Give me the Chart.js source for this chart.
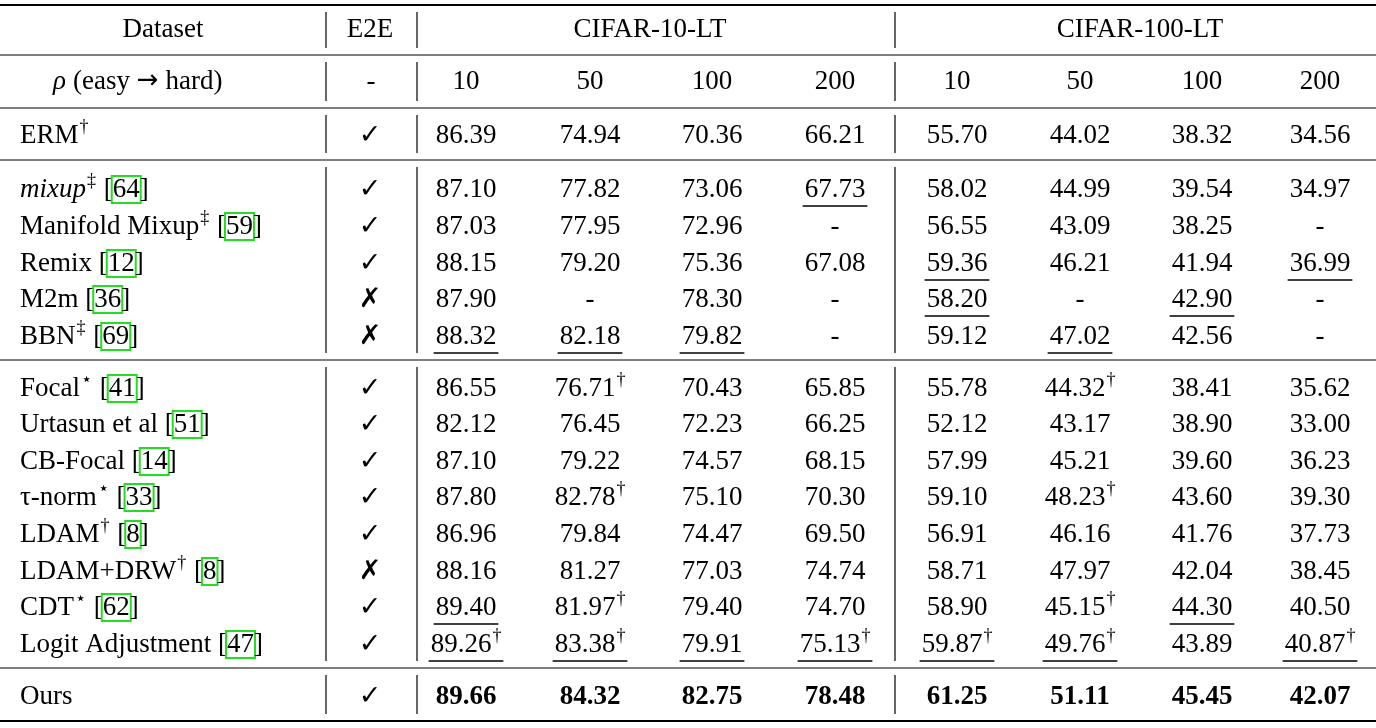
<!DOCTYPE html>
<html>
<head>
<meta charset="utf-8">
<script src="https://cdn.jsdelivr.net/npm/chart.js@4.4.0/dist/chart.umd.min.js"></script>
<style>
  html, body { margin: 0; padding: 0; background: #fff; }
  #wrap { width: 1376px; height: 728px; }
</style>
</head>
<body>
<div id="wrap"><canvas id="tableChart"></canvas></div>
<script>
// ---- data ----
const groupHeaders = ["CIFAR-10-LT", "CIFAR-100-LT"];
const rhoLabels = ["10", "50", "100", "200", "10", "50", "100", "200"];
const methodNames = ["ERM", "mixup", "Manifold Mixup", "Remix", "M2m", "BBN",
  "Focal", "Urtasun et al", "CB-Focal", "τ-norm", "LDAM", "LDAM+DRW", "CDT",
  "Logit Adjustment", "Ours"];
const methodSups = ["†", "‡", "‡", "", "", "‡", "⋆", "", "", "⋆", "†", "†", "⋆", "", ""];
const methodCites = ["", "64", "59", "12", "36", "69", "41", "51", "14", "33", "8", "8", "62", "47", ""];
const e2e = ["✓", "✓", "✓", "✓", "✗", "✗", "✓", "✓", "✓", "✓", "✓", "✗", "✓", "✓", "✓"];
// "_" prefix = underlined, "†" suffix = superscript dagger
const results = [
  ["86.39", "74.94", "70.36", "66.21", "55.70", "44.02", "38.32", "34.56"],
  ["87.10", "77.82", "73.06", "_67.73", "58.02", "44.99", "39.54", "34.97"],
  ["87.03", "77.95", "72.96", "-", "56.55", "43.09", "38.25", "-"],
  ["88.15", "79.20", "75.36", "67.08", "_59.36", "46.21", "41.94", "_36.99"],
  ["87.90", "-", "78.30", "-", "_58.20", "-", "_42.90", "-"],
  ["_88.32", "_82.18", "_79.82", "-", "59.12", "_47.02", "42.56", "-"],
  ["86.55", "76.71†", "70.43", "65.85", "55.78", "44.32†", "38.41", "35.62"],
  ["82.12", "76.45", "72.23", "66.25", "52.12", "43.17", "38.90", "33.00"],
  ["87.10", "79.22", "74.57", "68.15", "57.99", "45.21", "39.60", "36.23"],
  ["87.80", "82.78†", "75.10", "70.30", "59.10", "48.23†", "43.60", "39.30"],
  ["86.96", "79.84", "74.47", "69.50", "56.91", "46.16", "41.76", "37.73"],
  ["88.16", "81.27", "77.03", "74.74", "58.71", "47.97", "42.04", "38.45"],
  ["_89.40", "81.97†", "79.40", "74.70", "58.90", "45.15†", "_44.30", "40.50"],
  ["_89.26†", "_83.38†", "_79.91", "_75.13†", "_59.87†", "_49.76†", "43.89", "_40.87†"],
  ["89.66", "84.32", "82.75", "78.48", "61.25", "51.11", "45.45", "42.07"]
];

// ---- layout (pixel units on both scales) ----
const colX = [466, 590, 712, 835, 957, 1080, 1202, 1320];
const groupX = [650, 1140];
const rowY = [134, 188, 225, 262, 298, 335, 387, 423, 460, 496, 533, 570, 606, 643, 695];
const hLines = [[5, 2], [55, 1], [108, 1], [160, 1], [360, 1], [668, 1], [721, 2]];
const vLines = [326, 417, 895];
const FONT = "'Liberation Serif', 'DejaVu Serif', serif";
const FS = 27;

const points = [];
results.forEach((row, r) => row.forEach((v, c) => points.push({ x: colX[c], y: rowY[r] })));

const tablePlugin = {
  id: "tablePlugin",
  afterDraw(chart) {
    const { ctx, scales: { x, y } } = chart;
    const X = v => x.getPixelForValue(v), Y = v => y.getPixelForValue(v);
    ctx.save();
    ctx.fillStyle = "#000";
    ctx.strokeStyle = "#000";
    ctx.textBaseline = "alphabetic";
    const base = v => Y(v) + 9;

    hLines.forEach(([yy, w]) => {
      ctx.lineWidth = w;
      ctx.beginPath(); ctx.moveTo(X(0), Y(yy)); ctx.lineTo(X(1376), Y(yy)); ctx.stroke();
    });
    // vertical rules stop short of each horizontal rule
    ctx.lineWidth = 1.2;
    vLines.forEach(xx => {
      for (let i = 0; i < hLines.length - 1; i++) {
        ctx.beginPath();
        ctx.moveTo(X(xx), Y(hLines[i][0] + 7));
        ctx.lineTo(X(xx), Y(hLines[i + 1][0] - 7));
        ctx.stroke();
      }
    });
    ctx.lineWidth = 1;

    const font = (w, s, it) => `${it ? "italic " : ""}${w ? "bold " : ""}${s || FS}px ${FONT}`;

    // headers
    ctx.font = font(); ctx.textAlign = "center";
    ctx.fillText("Dataset", X(163), base(28));
    ctx.fillText("E2E", X(370), base(28));
    groupHeaders.forEach((g, i) => ctx.fillText(g, X(groupX[i]), base(28)));
    ctx.fillText("-", X(371), base(80));
    rhoLabels.forEach((t, i) => ctx.fillText(t, X(colX[i]), base(80)));
    // rho label
    ctx.textAlign = "left";
    let px = X(53);
    ctx.font = font(0, FS, true); ctx.fillText("ρ", px, base(80)); px += ctx.measureText("ρ").width + 7;
    ctx.font = font(); ctx.fillText("(easy", px, base(80)); px += ctx.measureText("(easy ").width;
    ctx.font = "26px 'DejaVu Sans', sans-serif"; ctx.fillText("→", px, base(80) - 1); px += ctx.measureText("→").width + 7;
    ctx.font = font(); ctx.fillText("hard)", px, base(80));

    // rows
    methodNames.forEach((name, r) => {
      const yb = base(rowY[r]);
      const bold = r === methodNames.length - 1;
      let cx = X(20);
      ctx.textAlign = "left";
      ctx.font = font(0, FS, name === "mixup");
      ctx.fillText(name, cx, yb); cx += ctx.measureText(name).width;
      if (methodSups[r]) {
        ctx.font = font(0, 18);
        ctx.fillText(methodSups[r], cx + 1, yb - 11); cx += ctx.measureText(methodSups[r]).width + 2;
      }
      if (methodCites[r]) {
        ctx.font = font();
        cx += ctx.measureText(" ").width;
        ctx.fillText("[", cx, yb); cx += ctx.measureText("[").width;
        const w = ctx.measureText(methodCites[r]).width;
        ctx.fillText(methodCites[r], cx, yb);
        ctx.strokeStyle = "#22dd22"; ctx.lineWidth = 2;
        ctx.strokeRect(cx - 1, yb - 21, w + 2, 27);
        ctx.strokeStyle = "#000"; ctx.lineWidth = 1;
        cx += w;
        ctx.fillText("]", cx, yb);
      }
      ctx.textAlign = "center";
      ctx.font = "bold 27px 'DejaVu Sans', sans-serif";
      ctx.fillText(e2e[r], X(370), yb);

      results[r].forEach((raw, c) => {
        let s = raw, under = false, dag = false;
        if (s.startsWith("_")) { under = true; s = s.slice(1); }
        if (s.endsWith("†")) { dag = true; s = s.slice(0, -1); }
        ctx.font = font(bold);
        const w = ctx.measureText(s).width;
        ctx.font = font(0, 18);
        const dw = dag ? ctx.measureText("†").width + 1 : 0;
        const left = X(colX[c]) - (w + dw) / 2;
        ctx.textAlign = "left";
        ctx.font = font(bold);
        ctx.fillText(s, left, yb);
        if (dag) { ctx.font = font(0, 18); ctx.fillText("†", left + w + 1, yb - 11); }
        if (under) {
          ctx.lineWidth = 1.3;
          ctx.beginPath(); ctx.moveTo(left - 2, yb + 9); ctx.lineTo(left + w + dw + 2, yb + 9); ctx.stroke();
          ctx.lineWidth = 1;
        }
      });
    });
    ctx.restore();
  }
};

new Chart(document.getElementById("tableChart").getContext("2d"), {
  type: "scatter",
  data: { datasets: [{ data: points, pointRadius: 0, pointHoverRadius: 0 }] },
  options: {
    responsive: true,
    maintainAspectRatio: false,
    animation: false,
    layout: { padding: 0 },
    plugins: { legend: { display: false }, tooltip: { enabled: false } },
    scales: {
      x: { type: "linear", min: 0, max: 1376, display: false },
      y: { type: "linear", min: 0, max: 728, reverse: true, display: false }
    }
  },
  plugins: [tablePlugin]
});
</script>
</body>
</html>
